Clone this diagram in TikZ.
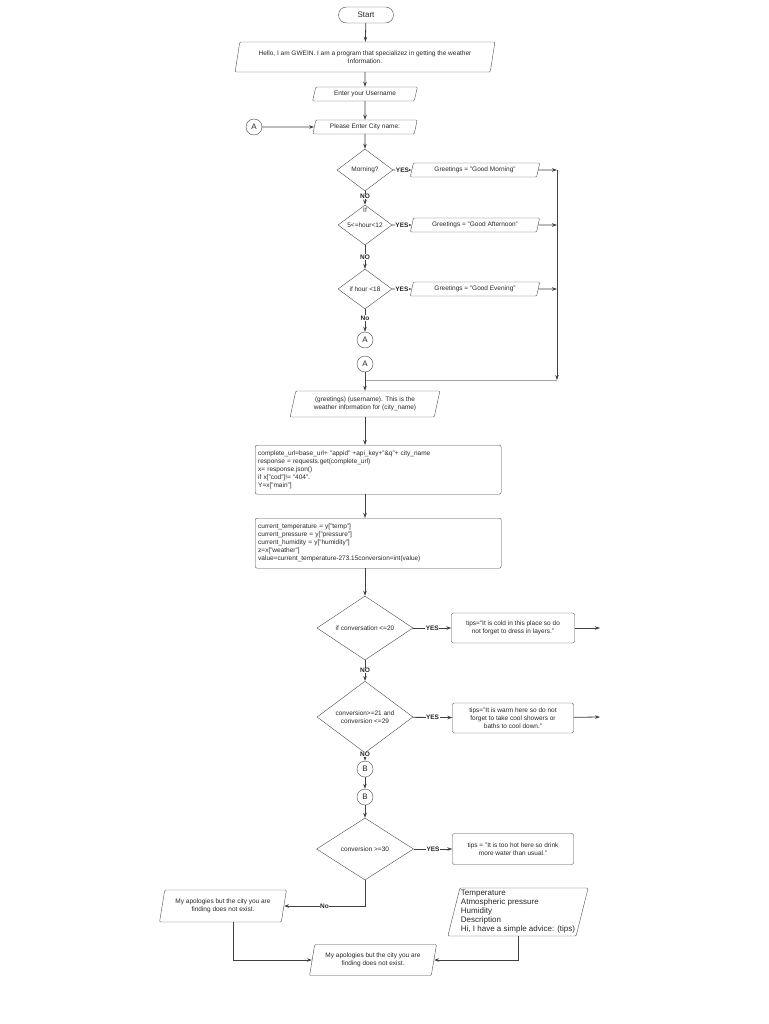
\documentclass[tikz,border=0pt]{standalone}
\usepackage{fontspec}
\setmainfont{Liberation Sans}
\usetikzlibrary{shapes.geometric,arrows.meta}
\begin{document}
\begin{tikzpicture}[x=1pt,y=-1pt,
  every node/.style={font=\fontsize{6.5}{8}\selectfont, text=black!85},
  par/.style={draw=black!70, trapezium, trapezium left angle=75, trapezium right angle=105, trapezium stretches=true, align=center, inner sep=1pt, rounded corners=1pt},
  dia/.style={draw=black!70, diamond, inner sep=0pt, align=center},
  box/.style={draw=black!70, rounded corners=2pt, align=center, inner sep=3pt},
  con/.style={draw=black!70, circle, minimum size=16pt, inner sep=0pt, font=\fontsize{8}{9}\selectfont},
  arr/.style={draw=black!75, line width=0.8pt, -{Stealth[length=5pt,width=3.5pt]}},
  lab/.style={font=\bfseries\fontsize{6.5}{8}\selectfont, fill=white, inner sep=0.5pt}]
\useasboundingbox (0,0) rectangle (768,1024);
\node[draw=black!70, rounded corners=8pt, minimum width=55pt, minimum height=16pt, inner sep=0pt, font=\fontsize{8}{9}\selectfont] (start) at (366,15) {Start};
\node[par, minimum width=260pt, minimum height=30pt] (hello) at (365,57) {Hello, I am GWEIN. I am a program that specializez in getting the weather\\Information.};
\node[par, minimum width=105pt, minimum height=14pt] (user) at (365,94) {Enter your Username};
\node[con] (a1) at (254,127) {A};
\node[par, minimum width=105pt, minimum height=14pt] (city) at (365,127) {Please Enter City name:};
\node[dia, minimum width=56pt, minimum height=42pt] (d1) at (365,170) {Morning?};
\node[par, minimum width=130pt, minimum height=14pt] (g1) at (475,170) {Greetings = "Good Morning"};
\node[dia, minimum width=54pt, minimum height=40pt] (d2) at (365,225) {5<=hour<12};
\node at (365,210) {If};
\node[par, minimum width=130pt, minimum height=14pt] (g2) at (475,225) {Greetings = "Good Afternoon"};
\node[dia, minimum width=54pt, minimum height=40pt] (d3) at (365,289) {if hour <18};
\node[par, minimum width=130pt, minimum height=14pt] (g3) at (475,289) {Greetings = "Good Evening"};
\node[con] (a2) at (365,340) {A};
\node[con] (a3) at (365,364) {A};
\node[par, minimum width=150pt, minimum height=26pt] (gr) at (365,404) {(greetings) (username). This is the\\weather information for (city\_name)};
\node[box, align=left, text width=240pt, minimum height=49pt, anchor=north west] (b1) at (255,445) {complete\_url=base\_url+ "appid" +api\_key+"\&q"+ city\_name\\response = requests.get(complete\_url)\\x= response.json()\\if x["cod"]!= "404".\\Y=x["main"]};
\node[box, align=left, text width=240pt, minimum height=50pt, anchor=north west] (b2) at (255,518) {current\_temperature = y["temp"]\\current\_pressure = y["pressure"]\\current\_humidity = y["humidity"]\\z=x["weather"]\\value=current\_temperature-273.15conversion=int(value)};
\node[dia, minimum width=96pt, minimum height=64pt] (d4) at (365,628) {if conversation <=20};
\node[box, minimum width=123pt, minimum height=30pt] (t1) at (513,628) {tips="It is cold in this place so do\\not forget to dress in layers."};
\coordinate (e1) at (600,628);
\node[dia, minimum width=96pt, minimum height=62pt] (d5) at (365,717) {conversion>=21 and\\conversion <=29};
\node[box, minimum width=121pt, minimum height=30pt] (t2) at (513,718) {tips="It is warm here so do not\\forget to take cool showers or\\baths to cool down."};
\coordinate (e2) at (600,717);
\node[con] (b1c) at (365,769) {B};
\node[con] (b2c) at (365,797) {B};
\node[dia, minimum width=97pt, minimum height=62pt] (d6) at (365,849) {conversion >=30};
\node[box, minimum width=121pt, minimum height=31pt] (t3) at (513,849) {tips = "It is too hot here so drink\\more water than usual."};
\node[par, minimum width=127pt, minimum height=32pt] (err1) at (223,906) {My apologies but the city you are\\finding does not exist.};
\node[par, minimum width=130pt, minimum height=48pt, align=left, font=\fontsize{8}{9}\selectfont] (out) at (518,912) {Temperature\\Atmospheric pressure\\Humidity\\Description\\Hi, I have a simple advice: (tips)};
\node[par, minimum width=127pt, minimum height=31pt] (err2) at (373,960) {My apologies but the city you are\\finding does not exist.};
% connectors
\draw[arr] (start) -- (hello);
\draw[arr] (hello) -- (user);
\draw[arr] (user) -- (city);
\draw[arr] (a1) -- (city);
\draw[arr] (city) -- (d1);
\draw[arr] (d1) -- node[lab]{YES} (g1);
\draw[arr] (d1) -- node[lab,pos=0.4]{NO} (d2);
\draw[arr] (d2) -- node[lab]{YES} (g2);
\draw[arr] (d2) -- node[lab]{NO} (d3);
\draw[arr] (d3) -- node[lab]{YES} (g3);
\draw[arr] (d3) -- node[lab,pos=0.4]{No} (a2);
\coordinate (r1) at (557,170);
\coordinate (r2) at (557,225);
\coordinate (r3) at (557,289);
\coordinate (rb) at (557,380);
\coordinate (jn) at (365,380);
\draw[arr] (g1) -- (r1);
\draw[arr] (g2) -- (r2);
\draw[arr] (g3) -- (r3);
\draw[arr] (r1) -- (rb);
\draw[draw=black!35, line width=0.6pt] (rb) -- (jn);
\draw[arr] (a3) -- (gr);
\draw[arr] (gr) -- (b1.north -| gr);
\draw[arr] (b1.south -| gr) -- (b2.north -| gr);
\draw[arr] (b2.south -| gr) -- (d4);
\draw[arr] (d4) -- node[lab]{YES} (t1);
\draw[arr] (t1) -- (e1);
\draw[arr] (d4) -- node[lab]{NO} (d5);
\draw[arr] (d5) -- node[lab]{YES} (t2);
\draw[arr] (t2) -- (e2);
\draw[arr] (d5) -- node[lab,pos=0.2]{NO} (b1c);
\draw[arr] (b1c) -- (b2c);
\draw[arr] (b2c) -- (d6);
\draw[arr] (d6) -- node[lab]{YES} (t3);
\draw[arr] (d6.south) |- node[lab,pos=0.75]{No} (err1.east);
\draw[arr] (err1.south -| 233,0) |- (err2.west);
\draw[arr] (out.south) |- (err2.east);
\end{tikzpicture}
\end{document}
